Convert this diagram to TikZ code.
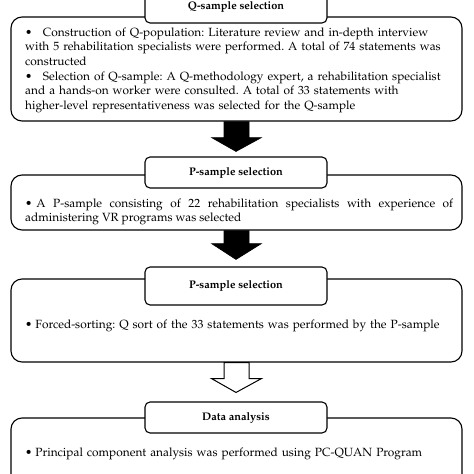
\documentclass[tikz,border=0pt]{standalone}
\usepackage[T1]{fontenc}
\usepackage{mathpazo}
\usetikzlibrary{calc}
\frenchspacing
\begin{document}
\begin{tikzpicture}[x=1pt,y=-1pt,
  bigbox/.style={draw, line width=1.1pt, rounded corners=11pt, minimum width=451pt, inner sep=0pt},
  titlebox/.style={draw, line width=1.1pt, rounded corners=5pt, fill=white, minimum width=182pt, inner sep=0pt, font=\bfseries\fontsize{11}{13}\selectfont},
  bodytext/.style={inner sep=0pt, text width=428pt, align=left, anchor=north west, font=\fontsize{11.9}{14.7}\selectfont},
  blackarrow/.style={fill=black, draw=black, line width=0.6pt},
  openarrow/.style={fill=white, draw=black, line width=1pt}]
\useasboundingbox (0,0) rectangle (474,474);
\clip (0,0) rectangle (474,474);
% boxes
\node[bigbox, minimum height=104pt] (b1) at (236.5,69) {};
\node[titlebox, minimum height=33pt] (t1) at (236,6.5) {Q-sample selection};
\node[bigbox, minimum height=55pt] (b2) at (236.5,202.5) {};
\node[titlebox, minimum height=31pt] (t2) at (236,172.5) {P-sample selection};
\node[bigbox, minimum height=83pt] (b3) at (236.5,320.5) {};
\node[titlebox, minimum height=38pt] (t3) at (236,286) {P-sample selection};
\node[bigbox, minimum height=82pt] (b4) at (236.5,459) {};
\node[titlebox, minimum height=31pt] (t4) at (236,417.5) {Data analysis};
% texts
\node[bodytext] (x1) at (25,27.2) {\textbullet\hspace{10.5pt}Construction of Q-population: Literature review and in-depth interview\\
with 5 rehabilitation specialists were performed. A total of 74 statements was\\
constructed\\
\textbullet\hspace{10.5pt}Selection of Q-sample: A Q-methodology expert, a rehabilitation specialist\\
and a hands-on worker were consulted. A total of 33 statements with\\
higher-level representativeness was selected for the Q-sample};
\node[bodytext, align=justify] (x2) at (25,198.2) {\textbullet\hspace{4pt}A P-sample consisting of 22 rehabilitation specialists with experience of\linebreak administering VR programs was selected};
\node[bodytext] (x3) at (25,319.2) {\textbullet\hspace{3pt}Forced-sorting: Q sort of the 33 statements was performed by the P-sample};
\node[bodytext] (x4) at (25,447.2) {\textbullet\hspace{3pt}Principal component analysis was performed using PC-QUAN Program};
% arrows
\coordinate (a1) at ($(t2.north)+(0,-5)$);
\coordinate (a2) at ($(t3.north)+(0,-7)$);
\coordinate (a3) at ($(t4.north)+(0,-9)$);
\draw[blackarrow] ($(b1.south)+(-12.5,0)$) -- ++(0,16) -- ++(-12.5,0) -- (a1) -- ($(b1.south)+(25,16)$) -- ++(-12.5,0) -- ($(b1.south)+(12.5,0)$) -- cycle;
\draw[blackarrow] ($(b2.south)+(-12.5,0)$) -- ++(0,13) -- ++(-12.5,0) -- (a2) -- ($(b2.south)+(25,13)$) -- ++(-12.5,0) -- ($(b2.south)+(12.5,0)$) -- cycle;
\draw[openarrow] ($(b3.south)+(-12.5,0)$) -- ++(0,16) -- ++(-12.5,0) -- (a3) -- ($(b3.south)+(25,16)$) -- ++(-12.5,0) -- ($(b3.south)+(12.5,0)$) -- cycle;
\end{tikzpicture}
\end{document}
